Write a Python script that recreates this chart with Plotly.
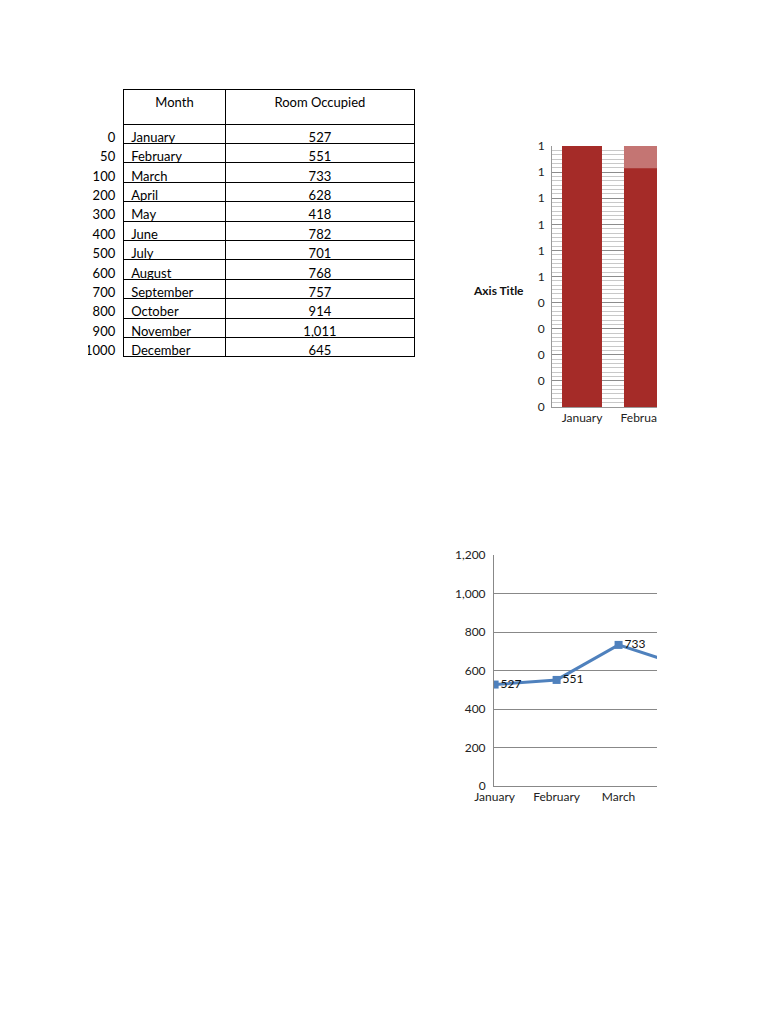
import plotly.graph_objects as go

# ----------
# data
# ----------
row_index = [0, 50, 100, 200, 300, 400, 500, 600, 700, 800, 900, 1000]
months = ["January", "February", "March", "April", "May", "June", "July",
          "August", "September", "October", "November", "December"]
rooms = [527, 551, 733, 628, 418, 782, 701, 768, 757, 914, 1011, 645]

bar_tickvals = [0, 0.1, 0.2, 0.3, 0.4, 0.5, 0.6, 0.7, 0.8, 0.9, 1.0]
bar_ticktext = ["0", "0", "0", "0", "0", "1", "1", "1", "1", "1", "1"]

FONT = "Lato"
# figure stops where the page content is cut off on the right
W, H = 649, 1000
OFF = 8  # body margin of the page


def px_x(v):
    return (v - OFF) / W


def px_y(v):
    return 1 - (v - OFF) / H


fig = go.Figure()

# ----------
# table
# ----------
fig.add_trace(go.Table(
    domain=dict(x=[px_x(89), px_x(414)], y=[px_y(380), px_y(89)]),
    columnwidth=[34, 102, 187],
    header=dict(
        values=["", "Month", "Room Occupied"],
        align=["right", "center", "center"],
        height=35,
        fill_color="white",
        line=dict(color=["white", "black", "black"], width=1),
        font=dict(family=FONT, size=13, color="black"),
    ),
    cells=dict(
        values=[row_index, months, [f"{v:,}" for v in rooms]],
        align=["right", "left", "center"],
        height=19.4,
        fill_color="white",
        line=dict(color=["white", "black", "black"], width=1),
        font=dict(family=FONT, size=13, color="black"),
    ),
))

# ----------
# bar chart (clipped)
# ----------
fig.add_trace(go.Bar(
    x=months, y=rooms, xaxis="x", yaxis="y",
    marker=dict(color="#A52B28", line=dict(width=0)),
    showlegend=False,
))

# ----------
# line chart (clipped)
# ----------
fig.add_trace(go.Scatter(
    x=months, y=rooms, xaxis="x2", yaxis="y2",
    mode="lines+markers+text",
    line=dict(color="#4F81BD", width=3),
    marker=dict(symbol="square", size=8, color="#4F81BD"),
    text=[str(v) for v in rooms],
    textposition="middle right",
    textfont=dict(family=FONT, size=12, color="#111"),
    cliponaxis=True,
    showlegend=False,
))

tick_font = dict(family=FONT, size=12, color="#222")

fig.update_layout(
    width=W, height=H,
    margin=dict(l=0, r=0, t=0, b=0, autoexpand=False),
    paper_bgcolor="white",
    plot_bgcolor="white",
    bargap=0.355,
    xaxis=dict(
        domain=[px_x(552), 1],
        anchor="y", automargin=False,
        range=[-0.484, 1.21],
        showgrid=False,
        showline=True, linecolor="#999", linewidth=1,
        ticks="", tickfont=tick_font,
    ),
    yaxis=dict(
        domain=[px_y(407), px_y(146)],
        anchor="x", automargin=False,
        range=[0, 1],
        tickvals=bar_tickvals, ticktext=bar_ticktext,
        showgrid=True, gridcolor="#8C8C8C", gridwidth=1,
        minor=dict(dtick=0.1 / 6, tick0=0, showgrid=True,
                   gridcolor="#C8C8C8", gridwidth=1, ticks=""),
        showline=True, linecolor="#999", linewidth=1,
        ticks="", tickfont=tick_font, ticklabelstandoff=4,
        zeroline=False,
    ),
    xaxis2=dict(
        domain=[px_x(494), 1],
        anchor="y2", automargin=False,
        range=[-0.01, 2.62],
        showgrid=False,
        showline=True, linecolor="#888", linewidth=1,
        ticks="", tickfont=tick_font, ticklabelstandoff=0,
    ),
    yaxis2=dict(
        domain=[px_y(786), px_y(555)],
        anchor="x2", automargin=False,
        range=[0, 1200], dtick=200,
        tickformat=",",
        showgrid=True, gridcolor="#888", gridwidth=1,
        showline=True, linecolor="#888", linewidth=1,
        ticks="", tickfont=tick_font, ticklabelstandoff=5,
        zeroline=False,
    ),
    shapes=[dict(
        # lighter band at the top of the February bar
        type="rect", xref="x", yref="y",
        x0=1 - 0.3225, x1=1 + 0.3225, y0=0.915, y1=1,
        fillcolor="rgba(255,255,255,0.35)", line=dict(width=0),
        layer="above",
    )],
    annotations=[dict(
        text="<b>Axis Title</b>", x=px_x(498), y=px_y(281),
        xref="paper", yref="paper", xanchor="center", showarrow=False,
        font=dict(family=FONT, size=12, color="#111"),
    )],
)

fig.write_html("out.html")
